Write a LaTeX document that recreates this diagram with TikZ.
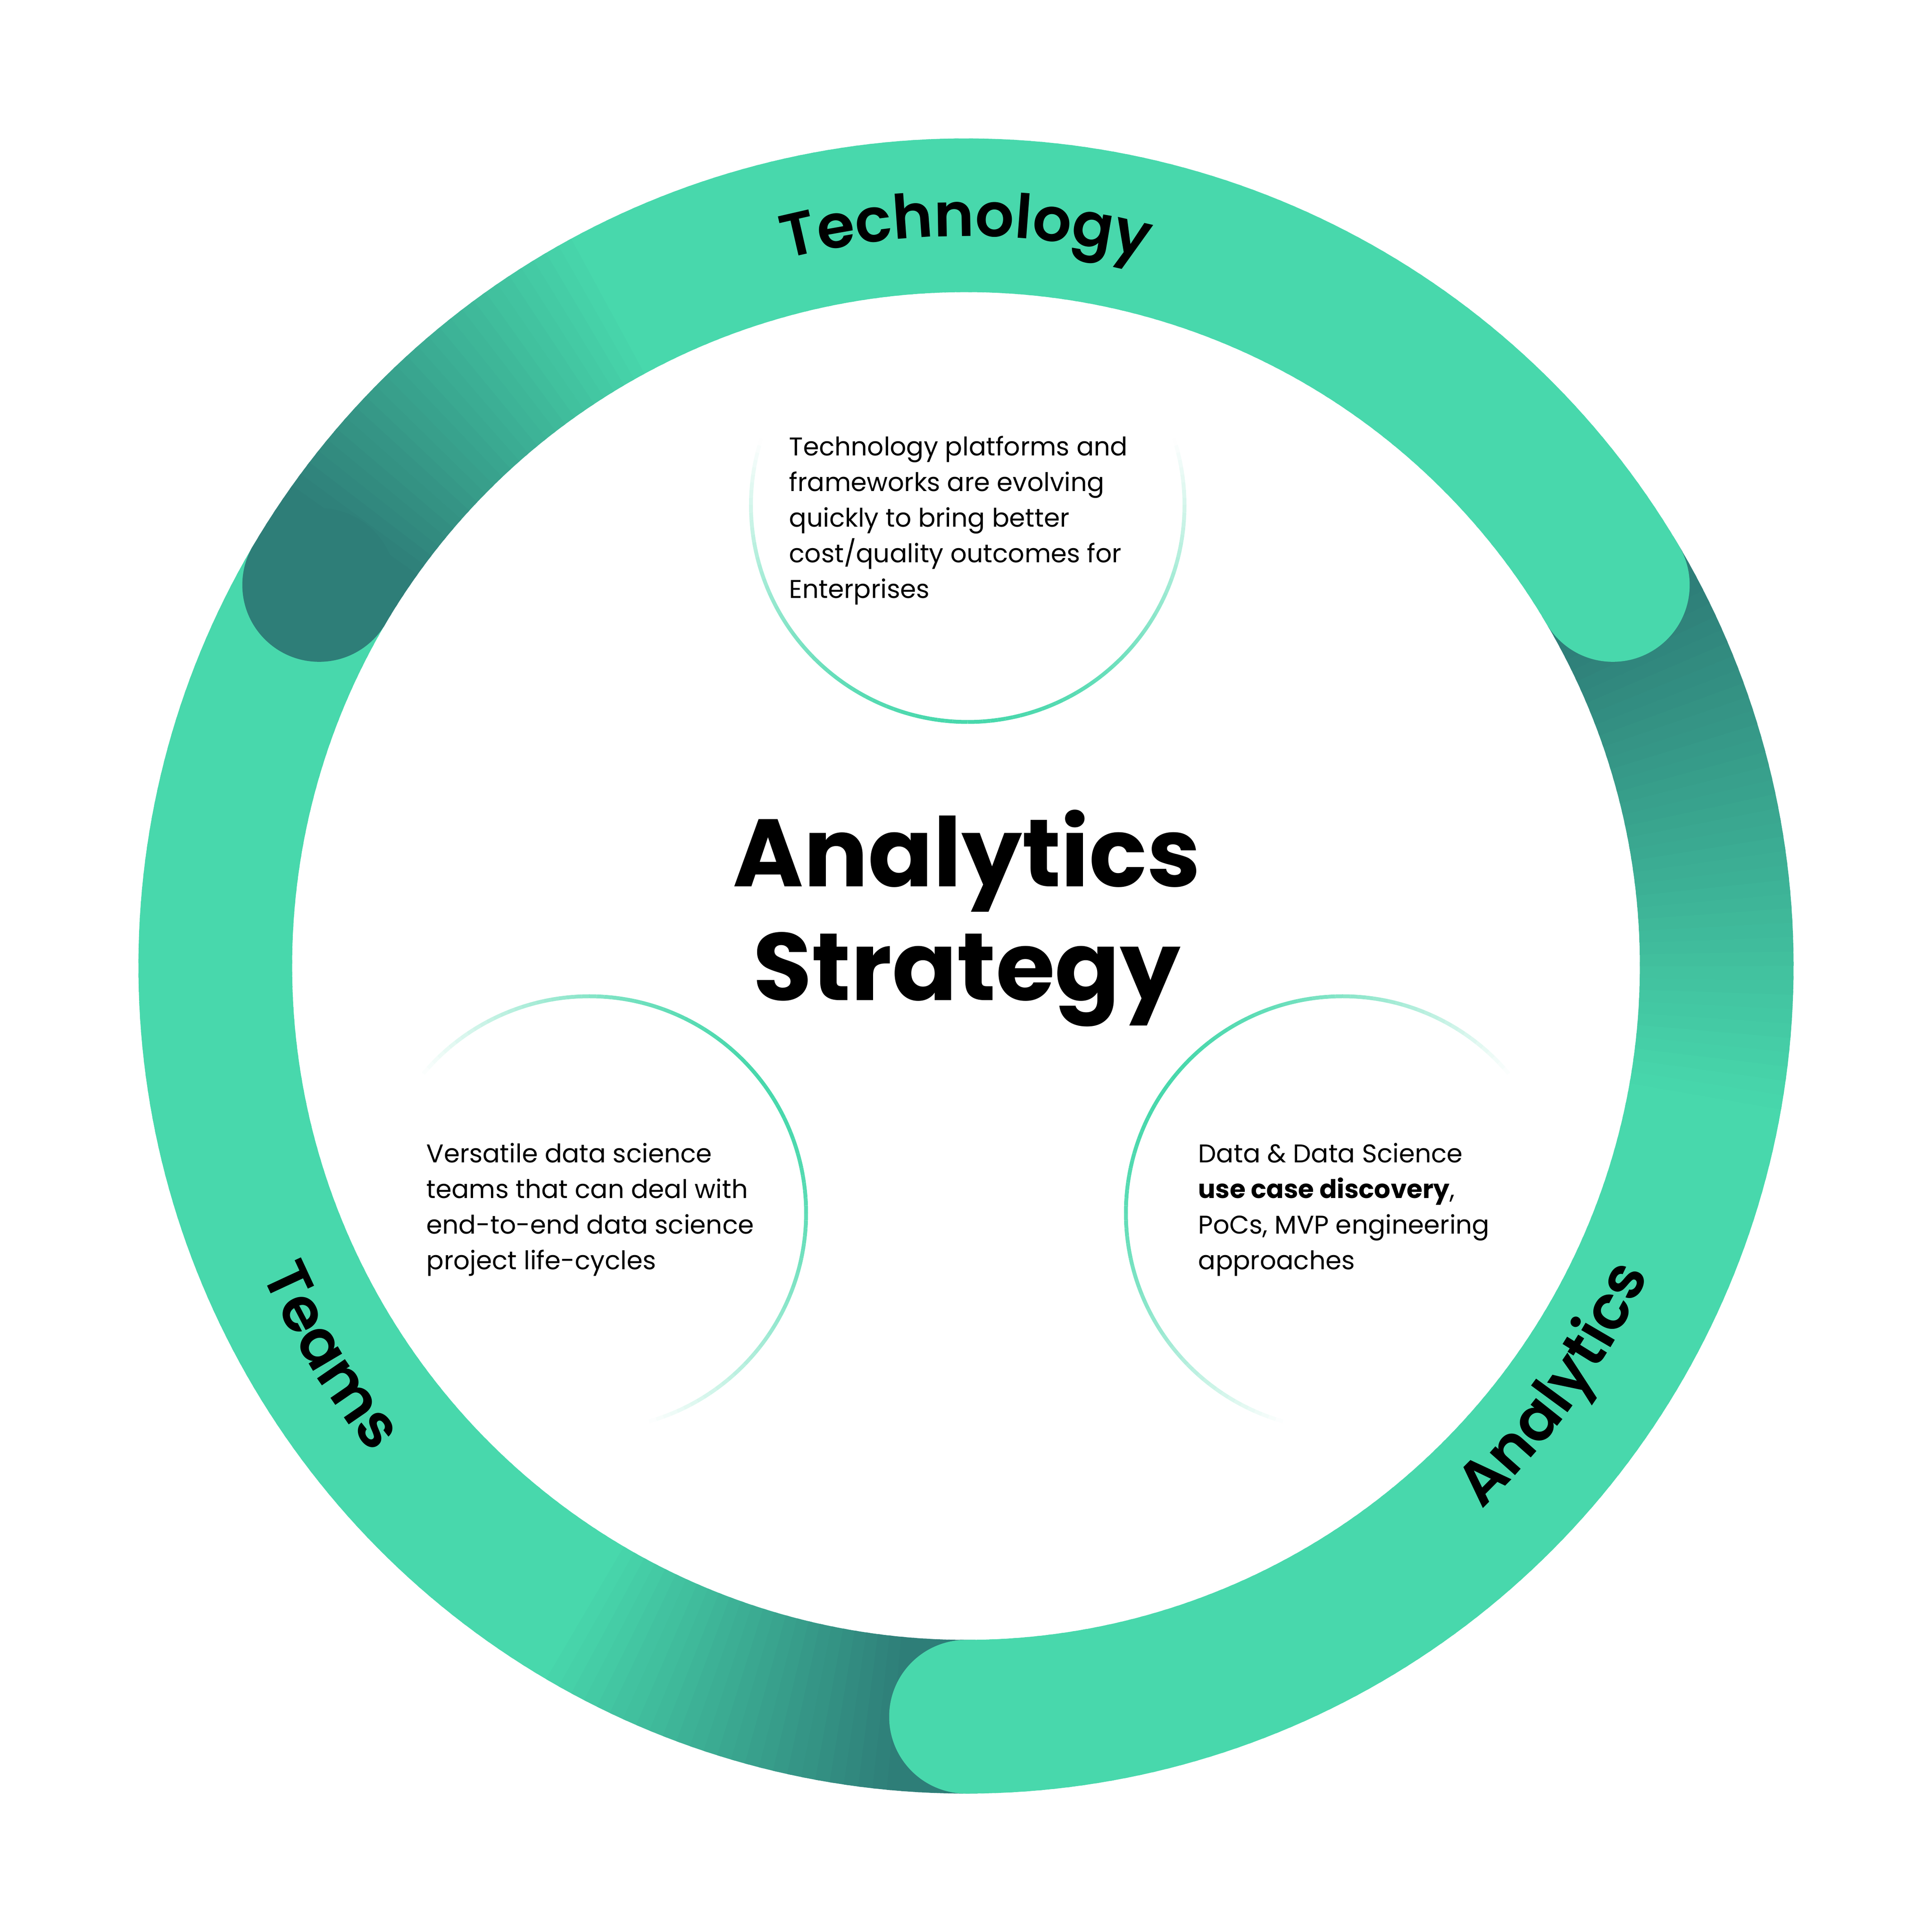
\documentclass[tikz,border=0pt]{standalone}
\usepackage{fontspec}
\setmainfont{Poppins}
\newfontfamily\semifont{Poppins}[UprightFont={* SemiBold}]
\usetikzlibrary{decorations.text}

\definecolor{ringlight}{RGB}{72,216,172}
\definecolor{ringdark}{RGB}{46,126,120}

\newcommand{\bodysize}{\fontsize{17pt}{23.6pt}\selectfont}
\newcommand{\labelsize}{\fontsize{40.5pt}{44pt}\selectfont\semifont}
\newcommand{\titlesize}{\fontsize{63.5pt}{75.4pt}\selectfont\bfseries}

\begin{document}
\begin{tikzpicture}[
    ringseg/.style={line width=3.58cm},
    fadestroke/.style={line width=0.09cm, ringlight},
    bodytext/.style={anchor=base west, inner sep=0pt, font=\bodysize},
    titletext/.style={anchor=base, inner sep=0pt, font=\titlesize},
    ringlabel/.style={decorate, decoration={text along path, text align=center, text={|\labelsize|#1}}}
  ]
  \useasboundingbox[fill=white] (-22.505,-22.505) rectangle (22.505,22.505);
  \coordinate (o) at (0,0);

  % Teams arc: bright, then dark near the bottom
  \foreach \i in {0,...,120}{
    \pgfmathsetmacro{\a}{149.5+\i}
    \pgfmathtruncatemacro{\pct}{max(0,min(100,100*(265-\a-0.5)/26))}
    \colorlet{segcol}{ringlight!\pct!ringdark}
    \draw[ringseg, segcol] (\a:17.49) arc[start angle=\a, end angle=\a+1.3, radius=17.49];
  }

  % Analytics arc: dark at the top right, bright at the bottom
  \foreach \i in {0,...,120}{
    \pgfmathsetmacro{\a}{-90+\i}
    \pgfmathtruncatemacro{\pct}{max(0,min(100,100*(28-\a-0.5)/38))}
    \colorlet{segcol}{ringlight!\pct!ringdark}
    \draw[ringseg, segcol] (\a:17.49) arc[start angle=\a, end angle=\a+1.3, radius=17.49];
  }
  \fill[ringlight] (-90:17.49) circle[radius=1.79];

  % Technology arc: dark at the left cap, bright at the right cap
  \foreach \i in {0,...,118}{
    \pgfmathsetmacro{\a}{30.5+\i}
    \pgfmathtruncatemacro{\pct}{max(0,min(100,100*(145-\a-0.5)/27))}
    \colorlet{segcol}{ringlight!\pct!ringdark}
    \draw[ringseg, segcol] (\a:17.49) arc[start angle=\a, end angle=\a+1.3, radius=17.49];
  }
  \fill[ringdark] (149.5:17.49) circle[radius=1.79];
  \fill[ringlight] (30.5:17.49) circle[radius=1.79];

  % labels on the ring
  \path[ringlabel=Technology] (150:17.0) arc[start angle=150, end angle=30, radius=17.0];
  \path[ringlabel=Teams] (181.5:17.9) arc[start angle=181.5, end angle=241.5, radius=17.9];
  \path[ringlabel=Analytics] (-65.4:17.45) arc[start angle=-65.4, end angle=-5.4, radius=17.45];

  % fading circles
  \foreach \cx/\cy/\ph/\nm in {0.04/10.735/-90/tech,-8.775/-5.755/33.25/teams,8.775/-5.755/146.75/ana}{
    \coordinate (\nm-c) at (\cx,\cy);
    \foreach \i in {0,...,179}{
      \pgfmathsetmacro{\th}{2*\i}
      \pgfmathsetmacro{\op}{max(0,min(1,(5.05*cos(\th+1-(\ph))+1.5)/6.55))}
      \draw[fadestroke, draw opacity=\op] (\nm-c) ++(\th:5.05) arc[start angle=\th, end angle=\th+2, radius=5.05];
    }
  }

  \node[titletext] (title) at (0.02,1.845) {\parbox[t]{14cm}{\centering Analytics\\Strategy}};

  \node[bodytext] (tech-text) at (-4.125,11.885) {\parbox[t]{9cm}{\raggedright
    Technology platforms and\\
    frameworks are evolving\\
    quickly to bring better\\
    cost/quality outcomes for\\
    Enterprises}};
  \node[bodytext] (teams-text) at (-12.575,-4.585) {\parbox[t]{9cm}{\raggedright
    Versatile data science\\
    teams that can deal with\\
    end-to-end data science\\
    project life-cycles}};
  \node[bodytext] (ana-text) at (5.405,-4.585) {\parbox[t]{9cm}{\raggedright
    Data \& Data Science\\
    \textbf{use case discovery},\\
    PoCs, MVP engineering\\
    approaches}};
\end{tikzpicture}
\end{document}
